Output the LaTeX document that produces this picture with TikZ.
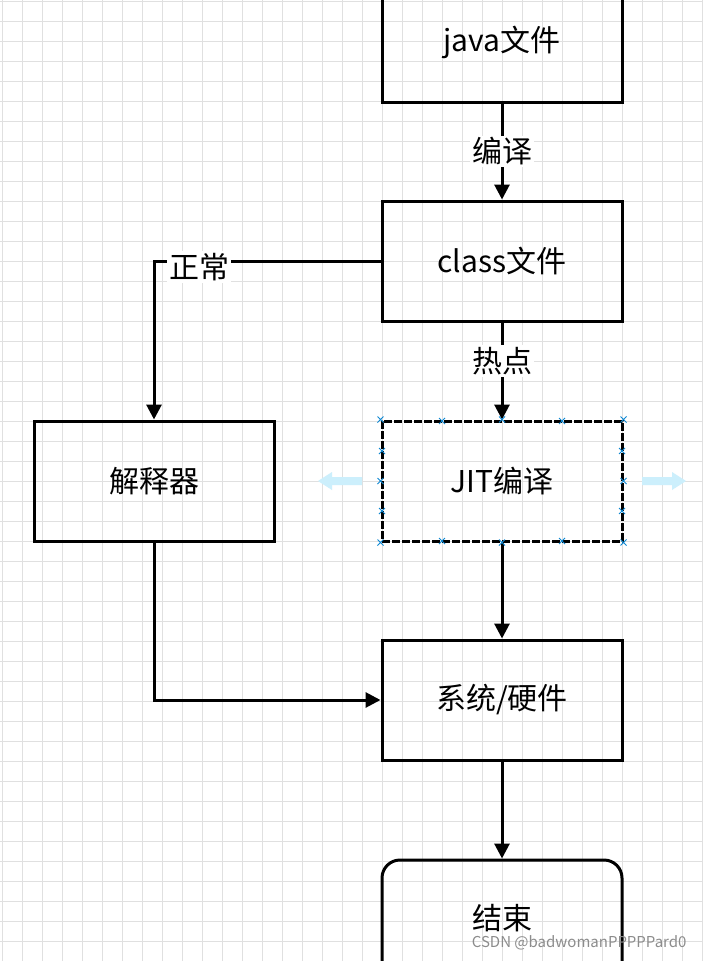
\documentclass[tikz,border=0pt]{standalone}
\usepackage{fontspec}
\setmainfont{Noto Sans CJK SC}
\usetikzlibrary{arrows.meta,shapes.misc}
\begin{document}
\begin{tikzpicture}[x=1pt,y=-1pt,
  box/.style={draw,line width=3pt,minimum width=240pt,minimum height=120pt,font=\fontsize{30}{33}\selectfont,inner sep=0},
  arr/.style={line width=3pt,-{Triangle[length=15pt,width=15pt]}},
  lbl/.style={fill=white,font=\fontsize{30}{33}\selectfont,inner sep=2pt},
  hd/.style={draw=cyan!70!blue,line width=1pt,cross out,minimum size=5pt,inner sep=0}]
\useasboundingbox (0,0) rectangle (703,961);
\fill[white] (0,0) rectangle (703,961);
\foreach \x in {2,22,...,702} \draw[black!12,line width=0.6pt] (\x,0) -- (\x,961);
\foreach \y in {1,21,...,961} \draw[black!12,line width=0.6pt] (0,\y) -- (703,\y);
\node[box] (java) at (502,42) {java文件};
\node[box] (class) at (502,261) {class文件};
\node[box] (interp) at (154,481) {解释器};
\node[box,dash pattern=on 8pt off 2pt] (jit) at (502,481) {JIT编译};
\node[box] (sys) at (502,700) {系统/硬件};
\node[box,rounded corners=18pt,minimum height=130pt] (end) at (502,925) {};
\node[font=\fontsize{30}{33}\selectfont] (endt) at (502,918) {结束};
\draw[arr] (java) -- node[lbl]{编译} (class);
\draw[arr] (class) -- node[lbl,pos=0.4]{热点} (jit);
\draw[arr] (class.west) -| node[lbl,pos=0.4,yshift=-6pt]{正常} (interp.north);
\draw[arr] (interp.south) |- (sys.west);
\draw[arr] (jit) -- (sys);
\draw[arr] (sys) -- (end);
\foreach \p in {jit.north west,jit.north,jit.north east,jit.south west,jit.south,jit.south east,jit.west,jit.east}
  \node[hd] at (\p) {};
\foreach \yy in {451,511} {\node[hd] at (382,\yy) {};\node[hd] at (622,\yy) {};}
\foreach \xx in {442,562} {\node[hd] at (\xx,421) {};\node[hd] at (\xx,541) {};}
\fill[cyan!20] (318,481) -- (332,472) -- (332,477) -- (362,477) -- (362,485) -- (332,485) -- (332,490) -- cycle;
\fill[cyan!20] (686,481) -- (672,472) -- (672,477) -- (642,477) -- (642,485) -- (672,485) -- (672,490) -- cycle;
\node[font=\fontsize{15}{17}\selectfont,text=black!45,anchor=east] (wm) at (690,943) {CSDN @badwomanPPPPPard0};
\end{tikzpicture}
\end{document}
